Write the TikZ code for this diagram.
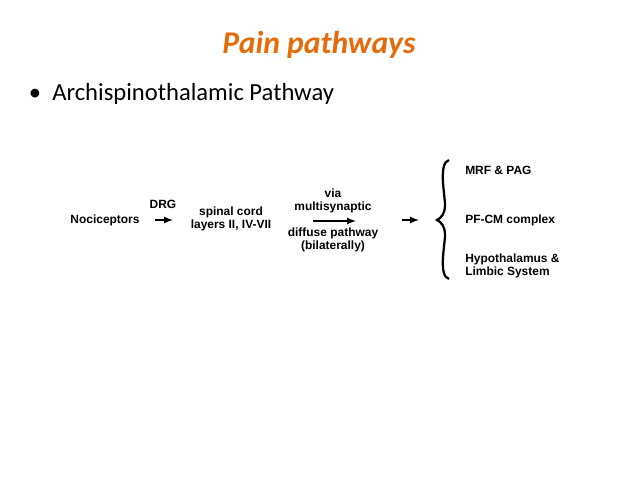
\documentclass[tikz,border=0pt]{standalone}
\usepackage{fontspec}
\setmainfont{Carlito}
\newfontfamily\diagfont{Liberation Sans}
\begin{document}
\begin{tikzpicture}[x=0.025cm, y=-0.025cm,
lbl/.style={font=\diagfont\fontsize{8.5}{9.4}\selectfont\bfseries, align=center, inner sep=0pt},
arr/.style={-latex, line width=1.2pt}]
\useasboundingbox (0,0) rectangle (638,478);
\node[font=\fontsize{22.5}{26}\selectfont\bfseries\itshape, text={rgb,255:red,228;green,108;blue,10}] (title) at (319,45) {Pain pathways};
\node[font=\fontsize{17.5}{20}\selectfont, anchor=west] (bullet) at (24,94) {\textbullet\ \ Archispinothalamic Pathway};
\node[lbl] (noci) at (105,220) {Nociceptors};
\node[lbl] (drg) at (163,204) {DRG};
\node[lbl] (cord) at (231,219) {spinal cord\\layers II, IV-VII};
\node[lbl] (via) at (333,201) {via\\multisynaptic};
\node[lbl] (diff) at (333,240) {diffuse pathway\\(bilaterally)};
\node[lbl, anchor=west] (mrf) at (465,170) {MRF \& PAG};
\node[lbl, anchor=west] (pfcm) at (465,220) {PF-CM complex};
\node[lbl, anchor=west, align=left] (hypo) at (465,266) {Hypothalamus \&\\Limbic System};
\coordinate (a1) at (155,220); \coordinate (b1) at (173,220);
\coordinate (a2) at (313,221); \coordinate (b2) at (356,221);
\coordinate (a3) at (402,220); \coordinate (b3) at (419,220);
\draw[arr] (a1) -- (b1);
\draw[arr] (a2) -- (b2);
\draw[arr] (a3) -- (b3);
% brace
\coordinate (btop) at (449,160); \coordinate (bmid) at (437,220); \coordinate (bbot) at (449,279);
\draw[line width=1.6pt] (btop) .. controls (438,163) and (445,195) .. (445,205)
  .. controls (445,214) and (441,218) .. (bmid)
  .. controls (441,222) and (445,226) .. (445,235)
  .. controls (445,245) and (438,276) .. (bbot);
\end{tikzpicture}
\end{document}
